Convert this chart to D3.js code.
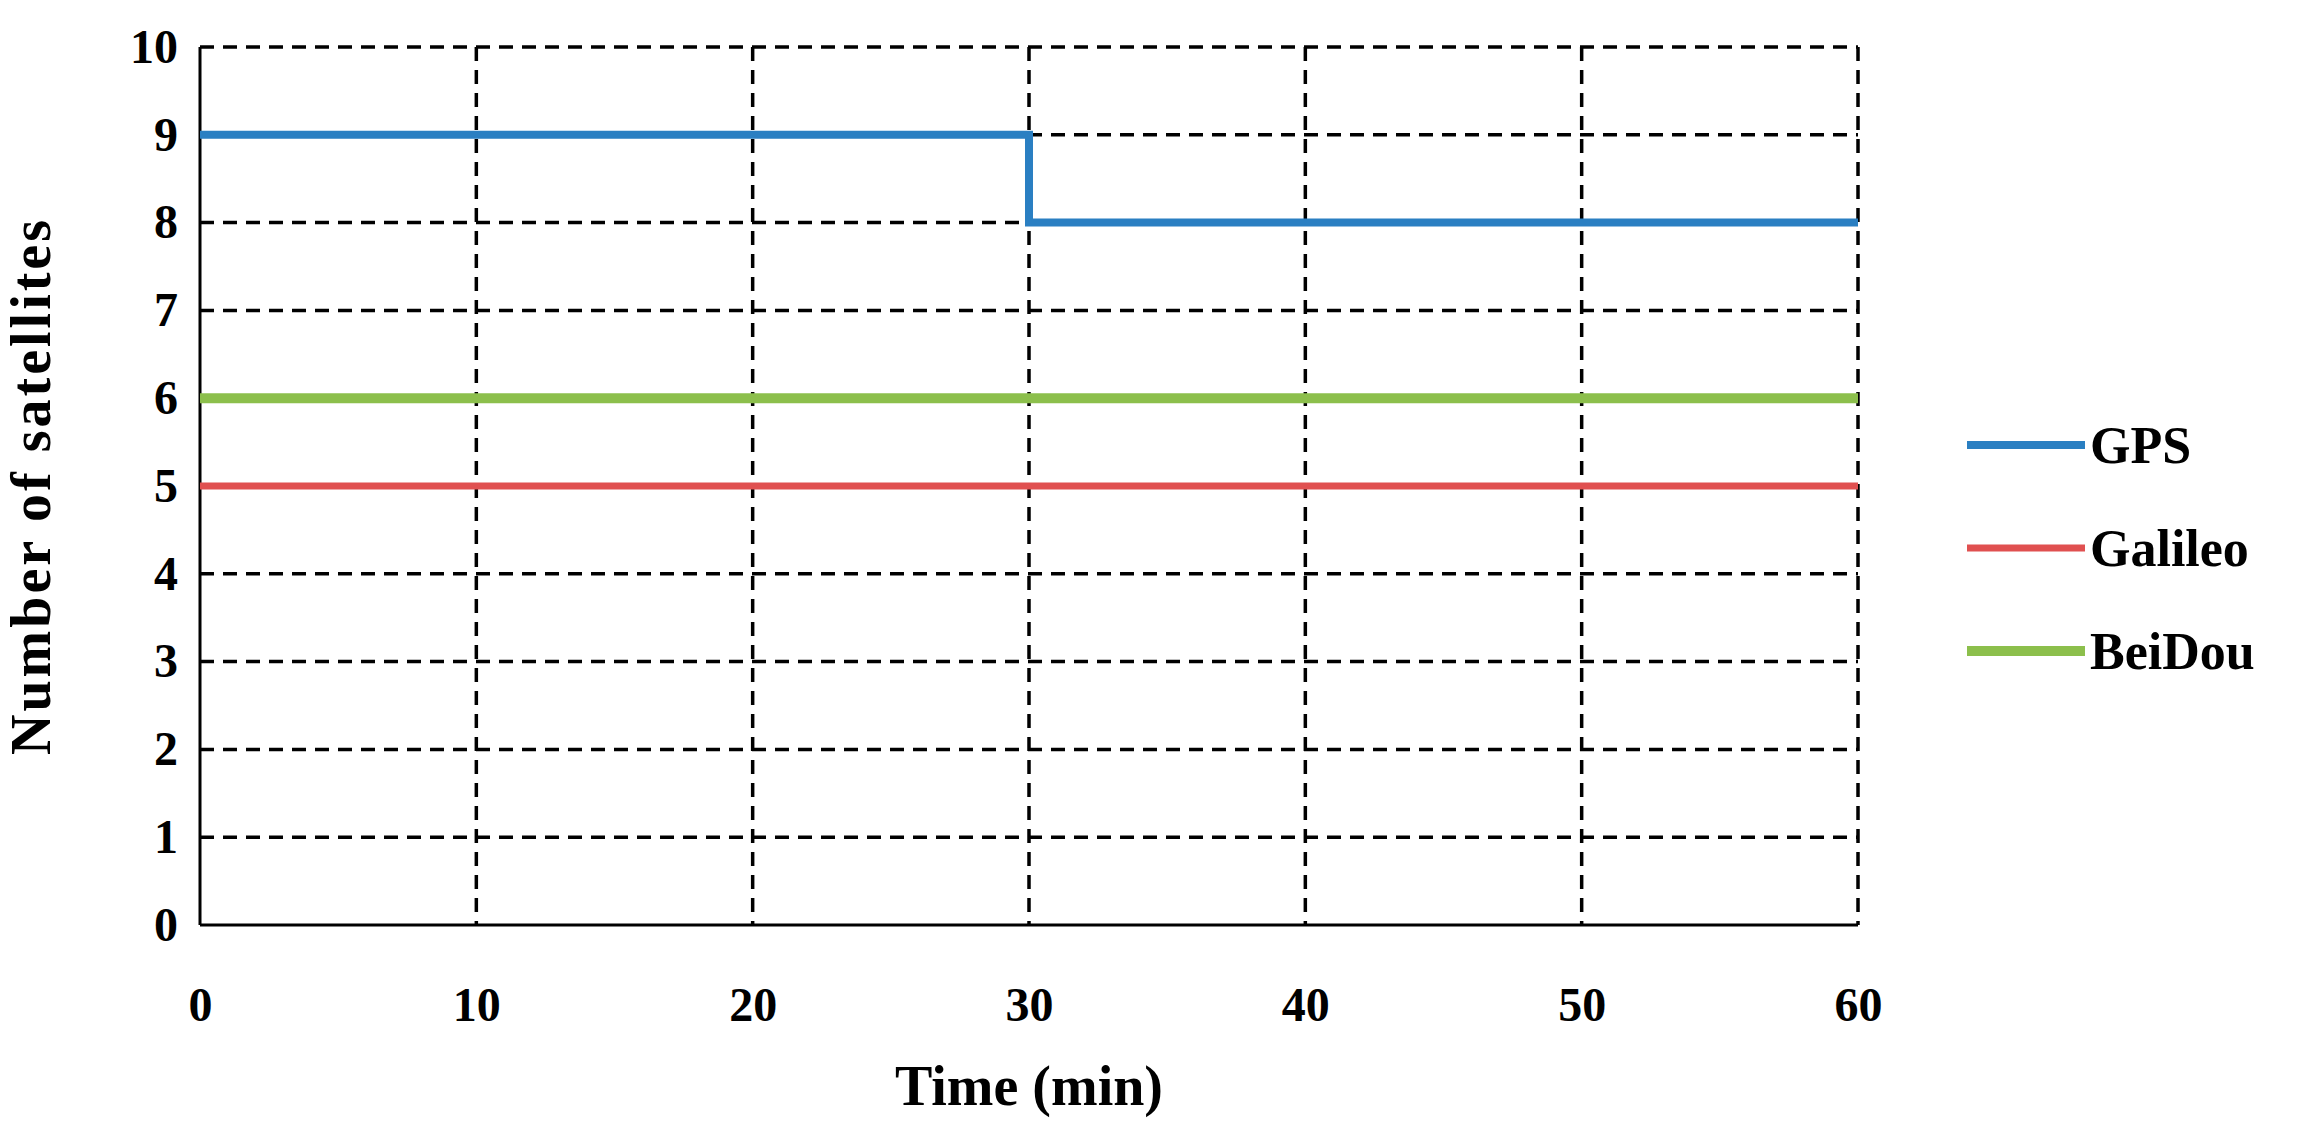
<!DOCTYPE html>
<html><head><meta charset="utf-8">
<script src="https://cdn.jsdelivr.net/npm/d3@7"></script>
<style>body{margin:0;background:#fff}text{font-family:"Liberation Serif",serif;font-weight:bold}</style>
</head><body><svg id="c" width="2302" height="1131"></svg>
<script>
const xTicks=[0,10,20,30,40,50,60];
const yTicks=[0,1,2,3,4,5,6,7,8,9,10];
const seriesNames=["GPS","Galileo","BeiDou"];
const seriesColors=["#2a7fc2","#e05050","#8cbf4c"];
const gpsTime=[0,30,30,60], gpsValues=[9,9,8,8];
const galileoTime=[0,60], galileoValues=[5,5];
const beidouTime=[0,60], beidouValues=[6,6];
const svg=d3.select("#c");
const L=200,R=1858,T=47,B=925;
const x=d3.scaleLinear().domain([0,60]).range([L,R]);
const y=d3.scaleLinear().domain([0,10]).range([B,T]);
const g=svg.append("g");
xTicks.slice(1).forEach(t=>g.append("line").attr("x1",x(t)).attr("x2",x(t)).attr("y1",T).attr("y2",B).attr("stroke","#000").attr("stroke-width",3.5).attr("stroke-dasharray","14,9"));
yTicks.slice(1).forEach(t=>g.append("line").attr("x1",L).attr("x2",R).attr("y1",y(t)).attr("y2",y(t)).attr("stroke","#000").attr("stroke-width",3.5).attr("stroke-dasharray","14,9"));
g.append("line").attr("x1",L).attr("x2",L).attr("y1",T).attr("y2",B).attr("stroke","#000").attr("stroke-width",3);
g.append("line").attr("x1",L).attr("x2",R).attr("y1",B).attr("y2",B).attr("stroke","#000").attr("stroke-width",3);
const xa=svg.append("g").attr("transform",`translate(0,${B})`).call(d3.axisBottom(x).tickValues(xTicks).tickSize(0).tickPadding(62));
const ya=svg.append("g").attr("transform",`translate(${L},0)`).call(d3.axisLeft(y).tickValues(yTicks).tickSize(0).tickPadding(22));
[xa,ya].forEach(a=>{a.select(".domain").remove();a.selectAll("text").attr("font-size",48).attr("font-family","Liberation Serif").attr("font-weight","bold").attr("fill","#000");});
const line=d3.line().x(d=>x(d[0])).y(d=>y(d[1]));
const data=[[gpsTime,gpsValues,8],[galileoTime,galileoValues,7],[beidouTime,beidouValues,10]];
data.forEach(([t,v,w],i)=>svg.append("path").attr("d",line(t.map((tt,j)=>[tt,v[j]]))).attr("fill","none").attr("stroke",seriesColors[i]).attr("stroke-width",w));
const lw=[8,7,10];
seriesNames.forEach((n,i)=>{const yy=445+i*103;
svg.append("line").attr("x1",1967).attr("x2",2085).attr("y1",yy).attr("y2",yy).attr("stroke",seriesColors[i]).attr("stroke-width",lw[i]);
svg.append("text").attr("x",2090).attr("y",yy).attr("dy","0.35em").attr("font-size",52).text(n);});
svg.append("text").attr("x",(L+R)/2).attr("y",1105).attr("text-anchor","middle").attr("font-size",56).text("Time (min)");
svg.append("text").attr("transform",`translate(50,${(T+B)/2}) rotate(-90)`).attr("text-anchor","middle").attr("font-size",56).attr("letter-spacing",3).text("Number of satellites");
</script></body></html>
